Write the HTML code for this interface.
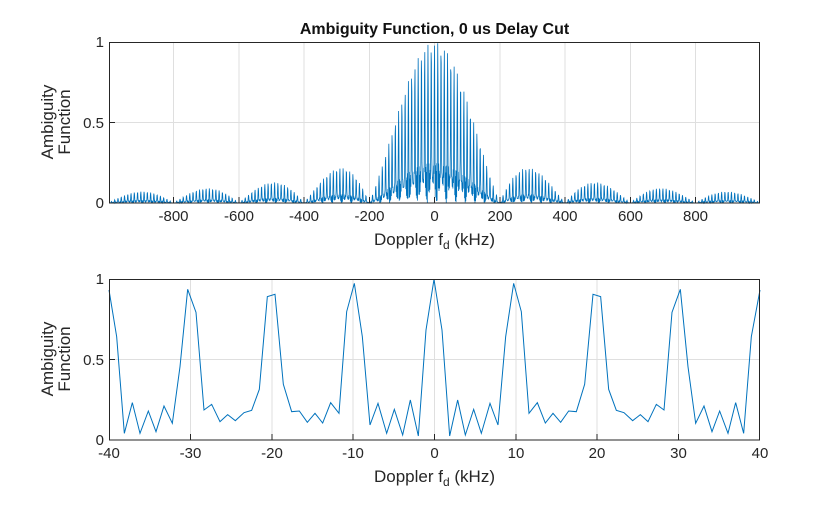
<!DOCTYPE html>
<html><head><meta charset="utf-8"><style>
html,body{margin:0;padding:0;background:#fff}
svg{display:block;font-family:"Liberation Sans",Arial,sans-serif}
</style></head><body>
<svg id="s" width="840" height="506" viewBox="0 0 840 506" xmlns="http://www.w3.org/2000/svg">
<rect width="840" height="506" fill="#fff"/>
<g stroke="#dfdfdf" stroke-width="1">
<line x1="173.5" y1="42" x2="173.5" y2="203"/><line x1="239" y1="42" x2="239" y2="203"/>
<line x1="304" y1="42" x2="304" y2="203"/><line x1="369.5" y1="42" x2="369.5" y2="203"/>
<line x1="434.5" y1="42" x2="434.5" y2="203"/><line x1="500" y1="42" x2="500" y2="203"/>
<line x1="565" y1="42" x2="565" y2="203"/><line x1="630.5" y1="42" x2="630.5" y2="203"/>
<line x1="695.5" y1="42" x2="695.5" y2="203"/>
<line x1="109" y1="122.5" x2="760" y2="122.5"/>
</g>
<g stroke="#dfdfdf" stroke-width="1">
<line x1="190.5" y1="279" x2="190.5" y2="440"/><line x1="272" y1="279" x2="272" y2="440"/>
<line x1="353" y1="279" x2="353" y2="440"/><line x1="434.5" y1="279" x2="434.5" y2="440"/>
<line x1="516" y1="279" x2="516" y2="440"/><line x1="597" y1="279" x2="597" y2="440"/>
<line x1="678.5" y1="279" x2="678.5" y2="440"/>
<line x1="109" y1="359.5" x2="760" y2="359.5"/>
</g>
<path id="top" fill="none" stroke="#0072BD" stroke-width="0.8" d=""/>
<g transform="translate(100,270) scale(0.33333)">
<polyline fill="none" stroke="#0072BD" stroke-width="3" points="27,60 50,200 73,490 97,398 120,490 145,423 168,485 192,408 217,460 240,290 263,58 288,127 312,420 335,403 360,455 383,434 406,452 432,428 455,421 478,358 502,80 525,73 550,343 575,425 598,423 622,457 645,430 668,459 692,398 717,430 740,125 763,40 787,200 810,465 834,400 860,490 883,418 908,495 931,390 955,498 978,180 1002,28 1026,180 1049,498 1073,390 1096,495 1121,418 1144,490 1170,400 1194,465 1217,200 1241,40 1264,125 1287,430 1312,398 1336,459 1359,430 1382,457 1406,423 1429,425 1454,343 1479,73 1502,80 1526,358 1549,421 1572,428 1598,452 1621,434 1644,455 1669,403 1692,420 1716,127 1741,58 1764,290 1787,460 1812,408 1836,485 1859,423 1884,490 1907,398 1931,490 1954,200 1980,60"/>
</g>
<g fill="none" stroke="#262626" stroke-width="1">
<rect x="109.5" y="42.5" width="650" height="160.5"/>
<rect x="109.5" y="279.5" width="650" height="160.5"/>
</g>
<g stroke="#262626" stroke-width="1">
<line x1="173.5" y1="203" x2="173.5" y2="197"/><line x1="239" y1="203" x2="239" y2="197"/><line x1="304" y1="203" x2="304" y2="197"/><line x1="369.5" y1="203" x2="369.5" y2="197"/><line x1="434.5" y1="203" x2="434.5" y2="197"/><line x1="500" y1="203" x2="500" y2="197"/><line x1="565" y1="203" x2="565" y2="197"/><line x1="630.5" y1="203" x2="630.5" y2="197"/><line x1="695.5" y1="203" x2="695.5" y2="197"/>
<line x1="109" y1="122.5" x2="115" y2="122.5"/>
<line x1="190.5" y1="440" x2="190.5" y2="434"/><line x1="272" y1="440" x2="272" y2="434"/><line x1="353" y1="440" x2="353" y2="434"/><line x1="434.5" y1="440" x2="434.5" y2="434"/><line x1="516" y1="440" x2="516" y2="434"/><line x1="597" y1="440" x2="597" y2="434"/><line x1="678.5" y1="440" x2="678.5" y2="434"/>
<line x1="109" y1="359.5" x2="115" y2="359.5"/>
</g>
<text x="434.5" y="34" font-size="16" font-weight="bold" text-anchor="middle" fill="#111">Ambiguity Function, 0 us Delay Cut</text>
<g font-size="15" fill="#262626" text-anchor="middle">
<text x="173.5" y="221">-800</text><text x="239" y="221">-600</text><text x="304" y="221">-400</text><text x="369.5" y="221">-200</text><text x="434.5" y="221">0</text><text x="500" y="221">200</text><text x="565" y="221">400</text><text x="630.5" y="221">600</text><text x="695.5" y="221">800</text>
<text x="109" y="458">-40</text><text x="190.5" y="458">-30</text><text x="272" y="458">-20</text><text x="353" y="458">-10</text><text x="434.5" y="458">0</text><text x="516" y="458">10</text><text x="597" y="458">20</text><text x="678.5" y="458">30</text><text x="760" y="458">40</text>
</g>
<g font-size="15" fill="#262626" text-anchor="end">
<text x="104" y="47">1</text><text x="104" y="128">0.5</text><text x="104" y="208">0</text>
<text x="104" y="284">1</text><text x="104" y="365">0.5</text><text x="104" y="445">0</text>
</g>
<g font-size="17" fill="#262626" text-anchor="middle">
<text x="434.5" y="245">Doppler f<tspan font-size="12" dy="4">d</tspan><tspan dy="-4"> (kHz)</tspan></text>
<text x="434.5" y="482">Doppler f<tspan font-size="12" dy="4">d</tspan><tspan dy="-4"> (kHz)</tspan></text>
<text transform="translate(53,122) rotate(-90)">Ambiguity</text>
<text transform="translate(70,122) rotate(-90)">Function</text>
<text transform="translate(53,359) rotate(-90)">Ambiguity</text>
<text transform="translate(70,359) rotate(-90)">Function</text>
</g>
<script>
(function(){
var d="",N=5,step=0.9668;
for(var f=-997.5;f<=997.5;f+=step){
 var a=Math.PI*f/200, env=Math.abs(a)<1e-9?1:Math.abs(Math.sin(a)/a);
 var b=Math.PI*f/10, s=Math.sin(b), comb=Math.abs(s)<1e-6?1:Math.abs(Math.sin(N*b)/(N*s));
 var v=env*comb;
 var x=434.5+f*0.3263, y=203-v*161;
 d+=(d?"L":"M")+x.toFixed(2)+","+y.toFixed(2);
}
document.getElementById("top").setAttribute("d",d);
})();
</script>
</svg>
</body></html>
